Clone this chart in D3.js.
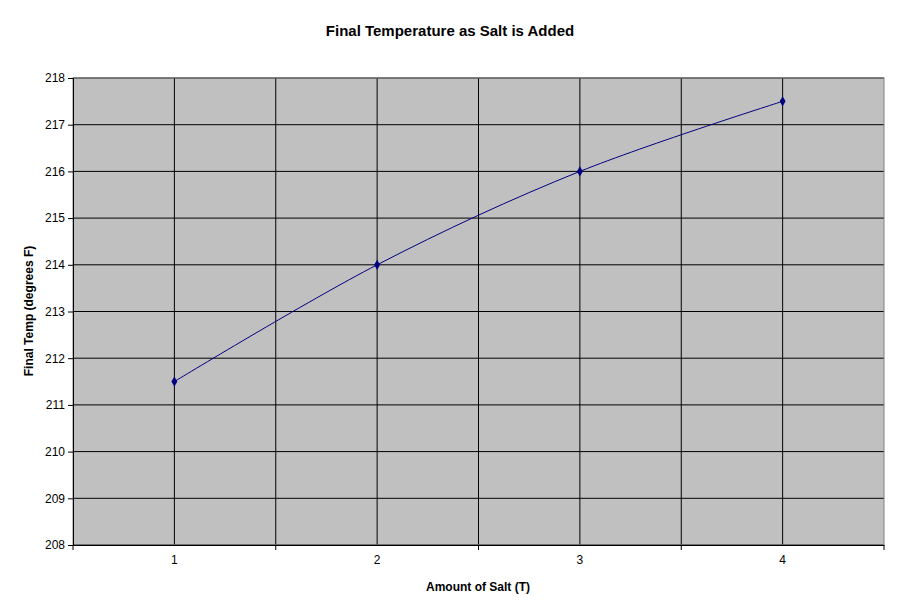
<!DOCTYPE html>
<html><head><meta charset="utf-8">
<script src="https://cdn.jsdelivr.net/npm/d3@7"></script>
<style>body{margin:0;background:#fff;font-family:"Liberation Sans",Arial,sans-serif}</style>
</head><body><div id="chart"></div>
<script>
var categories = ["1", "2", "3", "4"];
var temps = [211.5, 214, 216, 217.5];
var yTicks = [208, 209, 210, 211, 212, 213, 214, 215, 216, 217, 218];

var svg = d3.select("#chart").append("svg").attr("width", 900).attr("height", 614);
var pLeft = 73, pRight = 884, pTop = 78, pBottom = 545;

var x = d3.scaleBand().domain(categories).range([pLeft, pRight]);
var y = d3.scaleLinear().domain([208, 218]).range([pBottom, pTop]);

svg.append("rect").attr("x", pLeft).attr("y", pTop)
  .attr("width", pRight - pLeft).attr("height", pBottom - pTop)
  .attr("fill", "#c0c0c0");

// horizontal grid
svg.selectAll(".hg").data(yTicks).enter().append("line")
  .attr("x1", pLeft).attr("x2", pRight)
  .attr("y1", function(d){ return y(d); }).attr("y2", function(d){ return y(d); })
  .attr("stroke", "#000").attr("stroke-width", 1);

// vertical grid at band centres and edges
var vx = [];
categories.forEach(function(c, i){
  vx.push(x(c) + x.bandwidth() / 2);
  if (i > 0) vx.push(x(c));
});
svg.selectAll(".vg").data(vx).enter().append("line")
  .attr("x1", function(d){ return d; }).attr("x2", function(d){ return d; })
  .attr("y1", pTop).attr("y2", pBottom)
  .attr("stroke", "#000").attr("stroke-width", 1);

svg.append("rect").attr("x", pLeft).attr("y", pTop)
  .attr("width", pRight - pLeft).attr("height", pBottom - pTop)
  .attr("fill", "none").attr("stroke", "#808080");

// axes
var yAxis = svg.append("g").attr("transform", "translate(" + pLeft + ",0)")
  .call(d3.axisLeft(y).tickValues(yTicks).tickSize(5).tickFormat(d3.format("d")));
var xAxis = svg.append("g").attr("transform", "translate(0," + pBottom + ")")
  .call(d3.axisBottom(x).tickSize(0).tickPadding(10));
var edges = categories.map(function(c){ return x(c); }).concat([pRight]);
svg.selectAll(".xt").data(edges).enter().append("line")
  .attr("x1", function(d){ return d; }).attr("x2", function(d){ return d; })
  .attr("y1", pBottom).attr("y2", pBottom + 5).attr("stroke", "#000");
[yAxis, xAxis].forEach(function(a){
  a.select(".domain").attr("stroke", "#000");
  a.selectAll("text").attr("font-family", "Liberation Sans, Arial, sans-serif")
    .attr("font-size", 12).attr("fill", "#000");
});

// line
var line = d3.line()
  .x(function(d, i){ return x(categories[i]) + x.bandwidth() / 2; })
  .y(function(d){ return y(d); })
  .curve(d3.curveCatmullRom.alpha(0.5));
svg.append("path").datum(temps).attr("d", line)
  .attr("fill", "none").attr("stroke", "#000080").attr("stroke-width", 1);

svg.selectAll(".pt").data(temps).enter().append("path")
  .attr("d", d3.symbol().type(d3.symbolDiamond).size(30))
  .attr("transform", function(d, i){
    return "translate(" + (x(categories[i]) + x.bandwidth() / 2) + "," + y(d) + ")";
  })
  .attr("fill", "#000080");

svg.append("text").attr("x", 450).attr("y", 36).attr("text-anchor", "middle")
  .attr("font-size", 15).attr("font-weight", "bold").text("Final Temperature as Salt is Added");
svg.append("text").attr("x", 478).attr("y", 591).attr("text-anchor", "middle")
  .attr("font-size", 12).attr("font-weight", "bold").text("Amount of Salt (T)");
svg.append("text").attr("transform", "translate(33,311) rotate(-90)").attr("text-anchor", "middle")
  .attr("font-size", 12).attr("font-weight", "bold").text("Final Temp (degrees F)");
</script></body></html>
